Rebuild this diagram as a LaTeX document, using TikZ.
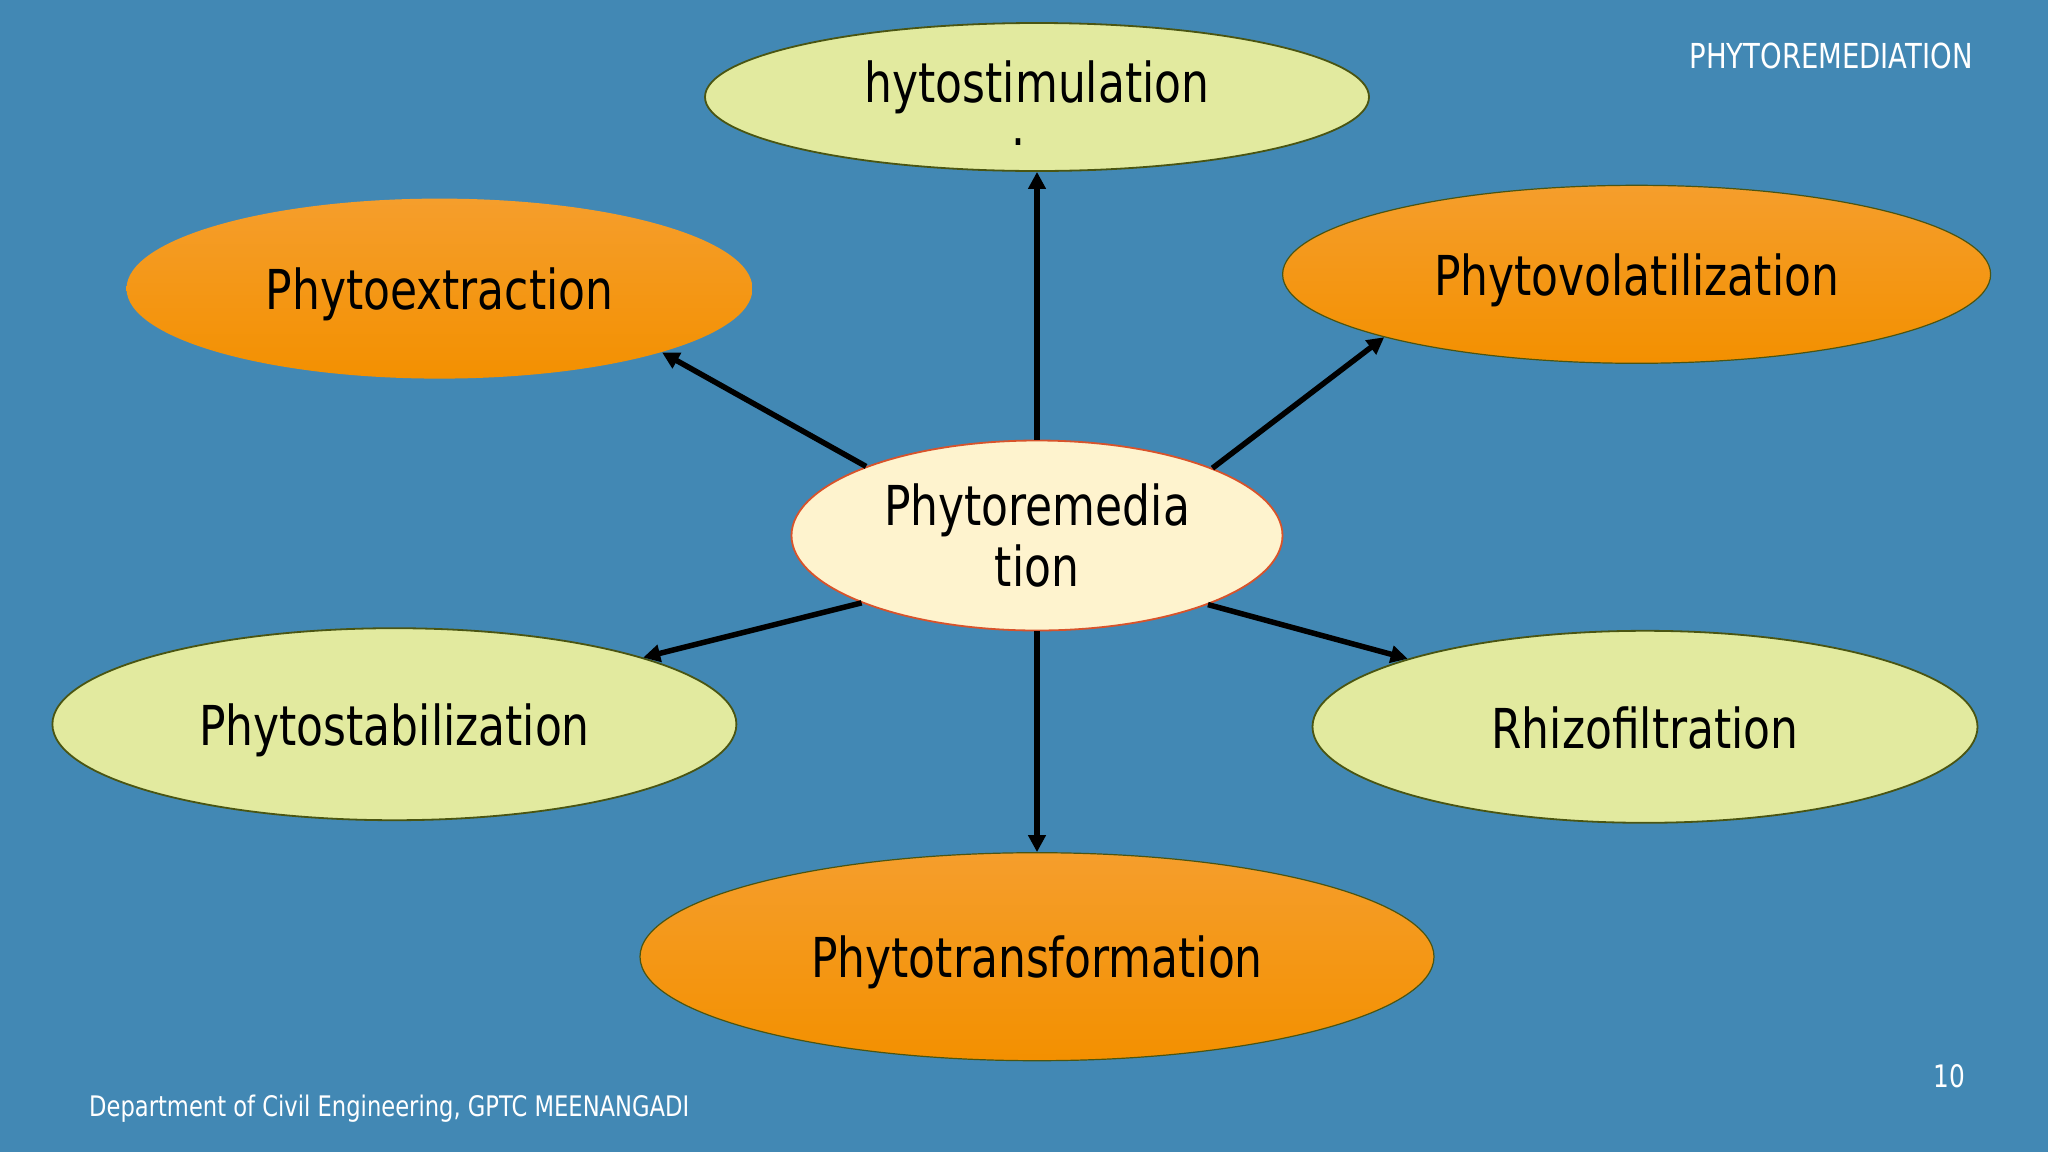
\documentclass[tikz,border=0pt]{standalone}
\usepackage{fontspec}
\setmainfont{DejaVu Sans}[FakeStretch=0.80]
\usetikzlibrary{shapes.geometric,arrows.meta}
\definecolor{bg}{HTML}{4288B4}
\definecolor{lightfill}{HTML}{E2EA9F}
\definecolor{olive}{HTML}{4A5512}
\definecolor{orangetop}{HTML}{F59E2C}
\definecolor{orangebot}{HTML}{F39000}
\definecolor{centerfill}{HTML}{FEF3CE}
\definecolor{centerline}{HTML}{D8532B}
\newcommand{\lowered}[2]{\raisebox{-#1}[\height][\depth]{#2}}
\tikzset{
  bubble/.style={ellipse, inner sep=0pt, align=center, text=black,
    font=\fontsize{55}{61}\selectfont},
  lightbubble/.style={bubble, fill=lightfill, draw=olive, line width=1.8pt},
  orangebubble/.style={bubble, top color=orangetop, bottom color=orangebot, draw=olive, line width=1.2pt},
  centerbubble/.style={bubble, fill=centerfill, draw=centerline, line width=1.8pt},
  link/.style={draw=black, line width=5.5pt, -{Triangle[length=17pt,width=17pt]}},
  smalltext/.style={text=white, inner sep=0pt}
}
\begin{document}
\begin{tikzpicture}[x=1pt,y=-1pt]
\fill[bg] (0,0) rectangle (2048,1152);
\useasboundingbox (0,0) rectangle (2048,1152);

\node[centerbubble, minimum width=491pt, minimum height=190pt] (c) at (1037,535.5) {Phytoremedia\\tion};
\node[lightbubble, minimum width=664pt, minimum height=148pt] (top) at (1037,97)
  {\lowered{14.5pt}{\begin{tabular}{@{}c@{}}hytostimulation\\[-18pt]\makebox[0pt][r]{.\hspace{12pt}}\end{tabular}}};
\node[orangebubble, draw=none, minimum width=626pt, minimum height=180pt] (ext) at (439.5,288.6) {\lowered{6pt}{Phytoextraction}};
\node[orangebubble, minimum width=708pt, minimum height=178pt] (vol) at (1636.6,274.3) {\lowered{6pt}{Phytovolatilization}};
\node[lightbubble, minimum width=684pt, minimum height=192pt] (stab) at (394.4,724.2) {\lowered{6pt}{Phytostabilization}};
\node[lightbubble, minimum width=665pt, minimum height=192pt] (rhi) at (1645,726.8) {\lowered{1pt}{Rhizofiltration}};
\node[orangebubble, minimum width=794pt, minimum height=208pt] (trans) at (1037,956.7) {\lowered{6pt}{Phytotransformation}};

\draw[link] (c.90) -- (top.270);
\draw[link] (c.158) -- (ext.344.3);
\draw[link] (c.21.7) -- (vol.194.3);
\draw[link] (c.201.5) -- (stab.15.5);
\draw[link] (c.338.3) -- (rhi.164);
\draw[link] (c.270) -- (trans.90);

\node[smalltext, anchor=east, font=\fontsize{34.4}{40}\selectfont] (hdr) at (1973,56) {PHYTOREMEDIATION};
\node[smalltext, anchor=west, font=\fontsize{28.3}{33}\selectfont] (ftr) at (89,1109) {Department of Civil Engineering, GPTC MEENANGADI};
\node[smalltext, font=\fontsize{31}{36}\selectfont] (pg) at (1949,1076) {10};
\end{tikzpicture}
\end{document}
